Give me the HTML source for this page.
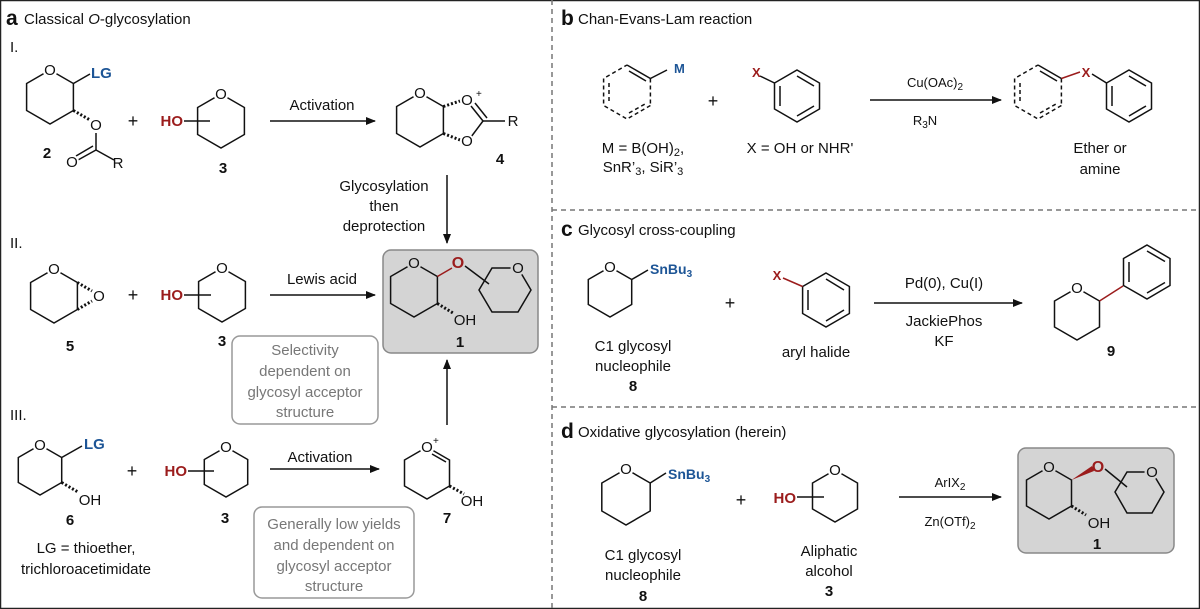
<!DOCTYPE html>
<html><head><meta charset="utf-8"><style>
html,body{margin:0;padding:0;background:#fff}
svg{display:block}
text{font-family:"Liberation Sans",sans-serif;font-size:15px;fill:#111}
.b{font-weight:bold}
.c{text-anchor:middle}
.red{fill:#9b1c1c}
.blue{fill:#1d5596;font-weight:bold}
.g{fill:#777}
.p{font-size:18px}
</style></head><body>
<svg width="1200" height="609" viewBox="0 0 1200 609" xmlns="http://www.w3.org/2000/svg">
<defs><marker id="ar" markerWidth="10" markerHeight="8" refX="9" refY="4" orient="auto" markerUnits="userSpaceOnUse"><path d="M0,0 L10,4 L0,8 z" fill="#111"/></marker></defs>
<rect x="0.5" y="0.5" width="1199" height="608" fill="none" stroke="#222" stroke-width="1.5"/>
<g stroke="#777" stroke-width="1.5" stroke-dasharray="5,4">
<line x1="552" y1="0" x2="552" y2="609"/>
<line x1="552" y1="210" x2="1200" y2="210"/>
<line x1="552" y1="407" x2="1200" y2="407"/>
</g>

<!-- ===== a ===== -->
<text x="6" y="25" class="b" style="font-size:21px">a</text>
<text x="24" y="24">Classical <tspan font-style="italic">O</tspan>-glycosylation</text>
<text x="10" y="52">I.</text>

<g fill="none" stroke="#111" stroke-width="1.5">
<polygon points="50,70 73.4,83.5 73.4,110.5 50,124 26.6,110.5 26.6,83.5"/>
<line x1="73.4" y1="83.5" x2="90" y2="74"/>
<line x1="73.4" y1="110.5" x2="90" y2="120" stroke-dasharray="2,2" stroke-width="3"/>
<line x1="96" y1="133" x2="96" y2="150"/>
<line x1="96" y1="150" x2="114" y2="160"/>
<line x1="96" y1="150" x2="78" y2="160"/>
<line x1="93" y1="146" x2="76" y2="156"/>
<polygon points="221,94 244.4,107.5 244.4,134.5 221,148 197.6,134.5 197.6,107.5"/>
<line x1="184" y1="121" x2="210" y2="121"/>
<polygon points="420,93 443.4,106.5 443.4,133.5 420,147 396.6,133.5 396.6,106.5"/>
<line x1="443.4" y1="106.5" x2="460" y2="101" stroke-dasharray="2,2" stroke-width="3"/>
<line x1="443.4" y1="133.5" x2="460" y2="140" stroke-dasharray="2,2" stroke-width="3"/>
<line x1="471" y1="106" x2="483" y2="121"/>
<line x1="475" y1="103" x2="487" y2="118"/>
<line x1="471" y1="137" x2="483" y2="121"/>
<line x1="483" y1="121" x2="505" y2="121"/>
<polygon points="54,269 77.4,282.5 77.4,309.5 54,323 30.6,309.5 30.6,282.5"/>
<line x1="77.4" y1="282.5" x2="92" y2="291" stroke-dasharray="2,2" stroke-width="3"/>
<line x1="77.4" y1="309.5" x2="92" y2="301" stroke-dasharray="2,2" stroke-width="3"/>
<polygon points="222,268 245.4,281.5 245.4,308.5 222,322 198.6,308.5 198.6,281.5"/>
<line x1="184" y1="295" x2="211" y2="295"/>
<polygon points="40,445 61.7,457.5 61.7,482.5 40,495 18.3,482.5 18.3,457.5"/>
<line x1="61.7" y1="457.5" x2="82" y2="446"/>
<line x1="61.7" y1="482.5" x2="78" y2="492" stroke-dasharray="2,2" stroke-width="3"/>
<polygon points="226,447 247.7,459.5 247.7,484.5 226,497 204.3,484.5 204.3,459.5"/>
<line x1="188" y1="471" x2="214" y2="471"/>
<polygon points="427,447 449.5,460 449.5,486 427,499 404.5,486 404.5,460"/>
<line x1="432" y1="454" x2="446" y2="462"/>
<line x1="449.5" y1="486" x2="464" y2="494" stroke-dasharray="2,2" stroke-width="3"/>
<line x1="270" y1="121" x2="375" y2="121" marker-end="url(#ar)"/>
<line x1="270" y1="295" x2="375" y2="295" marker-end="url(#ar)"/>
<line x1="270" y1="469" x2="379" y2="469" marker-end="url(#ar)"/>
<line x1="447" y1="175" x2="447" y2="243" marker-end="url(#ar)"/>
<line x1="447" y1="425" x2="447" y2="360" marker-end="url(#ar)"/>
<rect x="232" y="336" width="146" height="88" rx="8" stroke="#999"/>
<rect x="254" y="507" width="160" height="91" rx="8" stroke="#999"/>
</g>

<rect x="383" y="250" width="155" height="103" rx="8" fill="#d4d4d4" stroke="#888" stroke-width="1.5"/>
<g fill="none" stroke="#111" stroke-width="1.5">
<polygon points="414,263 437.4,276.5 437.4,303.5 414,317 390.6,303.5 390.6,276.5"/>
<line x1="437.4" y1="276.5" x2="452" y2="268" stroke="#9b1c1c"/>
<line x1="465" y1="266" x2="489" y2="284"/>
<polygon points="492,268 518,268 531,290 518,312 492,312 479,290"/>
<line x1="437.4" y1="303.5" x2="453" y2="313" stroke-dasharray="2,2" stroke-width="3"/>
</g>
<!-- white/gray knockouts for ring O -->
<g fill="#fff">
<circle cx="50" cy="70" r="7.5"/><circle cx="96" cy="125" r="7"/><circle cx="72" cy="162" r="7"/>
<circle cx="221" cy="94" r="7.5"/><circle cx="420" cy="93" r="7.5"/><circle cx="467" cy="100" r="7"/><circle cx="467" cy="141" r="7"/>
<circle cx="54" cy="269" r="7.5"/><circle cx="99" cy="296" r="7"/><circle cx="222" cy="268" r="7.5"/>
<circle cx="40" cy="445" r="7.5"/><circle cx="226" cy="447" r="7.5"/><circle cx="427" cy="447" r="7.5"/>
<circle cx="610" cy="267" r="7.5"/><circle cx="1077" cy="288" r="7.5"/>
<circle cx="626" cy="469" r="7.5"/><circle cx="835" cy="470" r="7.5"/>
</g>
<g fill="#d4d4d4">
<circle cx="414" cy="263" r="7.5"/><circle cx="518" cy="268" r="7.5"/>
<circle cx="1049" cy="467" r="7.5"/><circle cx="1152" cy="472" r="7.5"/>
</g>
<text x="414" y="268" class="c">O</text>
<text x="518" y="273" class="c">O</text>
<text x="458" y="268" class="c red b" style="font-size:16px">O</text>
<text x="465" y="325" class="c">OH</text>
<text x="460" y="347" class="c b">1</text>

<text x="50" y="75" class="c">O</text>
<text x="91" y="78" class="blue">LG</text>
<text x="96" y="130" class="c">O</text>
<text x="72" y="167" class="c">O</text>
<text x="118" y="168" class="c">R</text>
<text x="47" y="158" class="c b">2</text>
<text x="133" y="127" class="c p">+</text>
<text x="221" y="99" class="c">O</text>
<text x="183" y="126" class="red b" text-anchor="end">HO</text>
<text x="223" y="173" class="c b">3</text>
<text x="322" y="110" class="c">Activation</text>
<text x="420" y="98" class="c">O</text>
<text x="467" y="105" class="c">O</text><text x="476" y="97" style="font-size:10px">+</text>
<text x="467" y="146" class="c">O</text>
<text x="513" y="126" class="c">R</text>
<text x="500" y="164" class="c b">4</text>
<text x="384" y="191" class="c">Glycosylation</text>
<text x="384" y="211" class="c">then</text>
<text x="384" y="231" class="c">deprotection</text>

<text x="10" y="248">II.</text>
<text x="54" y="274" class="c">O</text>
<text x="99" y="301" class="c">O</text>
<text x="70" y="351" class="c b">5</text>
<text x="133" y="301" class="c p">+</text>
<text x="222" y="273" class="c">O</text>
<text x="183" y="300" class="red b" text-anchor="end">HO</text>
<text x="222" y="346" class="c b">3</text>
<text x="322" y="284" class="c">Lewis acid</text>
<text x="305" y="355" class="c g">Selectivity</text>
<text x="305" y="376" class="c g">dependent on</text>
<text x="305" y="397" class="c g">glycosyl acceptor</text>
<text x="305" y="417" class="c g">structure</text>

<text x="10" y="420">III.</text>
<text x="40" y="450" class="c">O</text>
<text x="84" y="449" class="blue">LG</text>
<text x="90" y="505" class="c">OH</text>
<text x="70" y="525" class="c b">6</text>
<text x="86" y="553" class="c">LG = thioether,</text>
<text x="86" y="574" class="c">trichloroacetimidate</text>
<text x="132" y="477" class="c p">+</text>
<text x="226" y="452" class="c">O</text>
<text x="187" y="476" class="red b" text-anchor="end">HO</text>
<text x="225" y="523" class="c b">3</text>
<text x="320" y="462" class="c">Activation</text>
<text x="427" y="452" class="c">O</text><text x="433" y="444" style="font-size:10px">+</text>
<text x="472" y="506" class="c">OH</text>
<text x="447" y="523" class="c b">7</text>
<text x="334" y="529" class="c g">Generally low yields</text>
<text x="334" y="550" class="c g">and dependent on</text>
<text x="334" y="571" class="c g">glycosyl acceptor</text>
<text x="334" y="591" class="c g">structure</text>

<!-- ===== b ===== -->
<text x="561" y="25" class="b" style="font-size:21px">b</text>
<text x="578" y="24">Chan-Evans-Lam reaction</text>
<g fill="none" stroke="#111" stroke-width="1.5">
<line x1="627" y1="65" x2="650.4" y2="78.5"/>
<line x1="629" y1="71" x2="646" y2="81"/>
<line x1="650.4" y1="78.5" x2="650.4" y2="105.5" stroke-dasharray="4,3"/>
<polyline points="650.4,105.5 627,119 603.6,105.5 603.6,78.5 627,65" stroke-dasharray="4,3"/>
<line x1="609" y1="83" x2="609" y2="102" stroke-dasharray="4,3"/>
<line x1="629" y1="113" x2="645" y2="104" stroke-dasharray="4,3"/>
<line x1="650.4" y1="78.5" x2="667" y2="70"/>
<polygon points="797,70 819.5,83 819.5,109 797,122 774.5,109 774.5,83"/>
<line x1="797" y1="76" x2="814" y2="86"/>
<line x1="814" y1="106" x2="797" y2="116"/>
<line x1="780" y1="86" x2="780" y2="106"/>
<line x1="760" y1="76" x2="774.5" y2="83"/>
<line x1="870" y1="100" x2="1001" y2="100" marker-end="url(#ar)"/>
<line x1="1038" y1="65" x2="1061.4" y2="78.5"/>
<line x1="1040" y1="71" x2="1057" y2="81"/>
<line x1="1061.4" y1="78.5" x2="1061.4" y2="105.5" stroke-dasharray="4,3"/>
<polyline points="1061.4,105.5 1038,119 1014.6,105.5 1014.6,78.5 1038,65" stroke-dasharray="4,3"/>
<line x1="1020" y1="83" x2="1020" y2="102" stroke-dasharray="4,3"/>
<line x1="1040" y1="113" x2="1056" y2="104" stroke-dasharray="4,3"/>
<line x1="1061.4" y1="78.5" x2="1080" y2="72" stroke="#9b1c1c"/>
<line x1="1092" y1="74" x2="1106.5" y2="83"/>
<polygon points="1129,70 1151.5,83 1151.5,109 1129,122 1106.5,109 1106.5,83"/>
<line x1="1129" y1="76" x2="1146" y2="86"/>
<line x1="1146" y1="106" x2="1129" y2="116"/>
<line x1="1112" y1="86" x2="1112" y2="106"/>
</g>
<text x="674" y="73" class="blue" style="font-size:13px">M</text>
<text x="752" y="77" class="red b" style="font-size:13px">X</text>
<text x="713" y="107" class="c p">+</text>
<text x="935" y="87" class="c" style="font-size:13px">Cu(OAc)<tspan font-size="10" dy="3">2</tspan></text>
<text x="925" y="125" class="c" style="font-size:13px">R<tspan font-size="10" dy="3">3</tspan><tspan dy="-3">N</tspan></text>
<text x="1086" y="77" class="red b c" style="font-size:13px">X</text>
<text x="643" y="153" class="c">M = B(OH)<tspan font-size="11" dy="3">2</tspan><tspan dy="-3">,</tspan></text>
<text x="643" y="172" class="c">SnR’<tspan font-size="11" dy="3">3</tspan><tspan dy="-3">, SiR’</tspan><tspan font-size="11" dy="3">3</tspan></text>
<text x="800" y="153" class="c">X = OH or NHR'</text>
<text x="1100" y="153" class="c">Ether or</text>
<text x="1100" y="174" class="c">amine</text>

<!-- ===== c ===== -->
<text x="561" y="236" class="b" style="font-size:21px">c</text>
<text x="578" y="235">Glycosyl cross-coupling</text>
<g fill="none" stroke="#111" stroke-width="1.5">
<polygon points="610,267 631.7,279.5 631.7,304.5 610,317 588.3,304.5 588.3,279.5"/>
<line x1="631.7" y1="279.5" x2="648" y2="270"/>
<polygon points="826,273 849.4,286.5 849.4,313.5 826,327 802.6,313.5 802.6,286.5"/>
<line x1="826" y1="279" x2="844" y2="290"/>
<line x1="844" y1="310" x2="826" y2="321"/>
<line x1="808" y1="290" x2="808" y2="310"/>
<line x1="783" y1="278" x2="802.6" y2="286.5" stroke="#9b1c1c"/>
<line x1="874" y1="303" x2="1022" y2="303" marker-end="url(#ar)"/>
<polygon points="1077,288 1099.5,301 1099.5,327 1077,340 1054.5,327 1054.5,301"/>
<line x1="1099.5" y1="301" x2="1123" y2="286" stroke="#9b1c1c"/>
<polygon points="1147,245 1170,258.5 1170,285.5 1147,299 1123.5,285.5 1123.5,258.5"/>
<line x1="1147" y1="251" x2="1165" y2="261.5"/>
<line x1="1165" y1="282.5" x2="1147" y2="293"/>
<line x1="1129" y1="262" x2="1129" y2="282"/>
</g>
<circle cx="610" cy="267" r="7.5" fill="#fff"/><circle cx="1077" cy="288" r="7.5" fill="#fff"/>
<text x="610" y="272" class="c">O</text>
<text x="650" y="274" class="blue" style="font-size:14px">SnBu<tspan font-size="10" dy="3">3</tspan></text>
<text x="777" y="280" class="red b c" style="font-size:13px">X</text>
<text x="730" y="309" class="c p">+</text>
<text x="944" y="288" class="c">Pd(0), Cu(I)</text>
<text x="944" y="326" class="c">JackiePhos</text>
<text x="944" y="346" class="c">KF</text>
<text x="1077" y="293" class="c">O</text>
<text x="633" y="351" class="c">C1 glycosyl</text>
<text x="633" y="371" class="c">nucleophile</text>
<text x="633" y="391" class="c b">8</text>
<text x="816" y="357" class="c">aryl halide</text>
<text x="1111" y="356" class="c b">9</text>

<!-- ===== d ===== -->
<text x="561" y="438" class="b" style="font-size:21px">d</text>
<text x="578" y="437">Oxidative glycosylation (herein)</text>
<g fill="none" stroke="#111" stroke-width="1.5">
<polygon points="626,469 650.2,483 650.2,511 626,525 601.8,511 601.8,483"/>
<line x1="650.2" y1="483" x2="666" y2="473"/>
<polygon points="835,470 857.5,483 857.5,509 835,522 812.5,509 812.5,483"/>
<line x1="797" y1="497" x2="824" y2="497"/>
<line x1="899" y1="497" x2="1001" y2="497" marker-end="url(#ar)"/>
</g>
<circle cx="626" cy="469" r="7.5" fill="#fff"/><circle cx="835" cy="470" r="7.5" fill="#fff"/>
<text x="626" y="474" class="c">O</text>
<text x="668" y="479" class="blue" style="font-size:14px">SnBu<tspan font-size="10" dy="3">3</tspan></text>
<text x="741" y="506" class="c p">+</text>
<text x="835" y="475" class="c">O</text>
<text x="796" y="503" class="red b" text-anchor="end">HO</text>
<text x="950" y="487" class="c" style="font-size:13px">ArIX<tspan font-size="10" dy="3">2</tspan></text>
<text x="950" y="526" class="c" style="font-size:13px">Zn(OTf)<tspan font-size="10" dy="3">2</tspan></text>
<text x="643" y="560" class="c">C1 glycosyl</text>
<text x="643" y="580" class="c">nucleophile</text>
<text x="643" y="601" class="c b">8</text>
<text x="829" y="556" class="c">Aliphatic</text>
<text x="829" y="576" class="c">alcohol</text>
<text x="829" y="596" class="c b">3</text>

<rect x="1018" y="448" width="156" height="105" rx="8" fill="#d4d4d4" stroke="#888" stroke-width="1.5"/>
<g fill="none" stroke="#111" stroke-width="1.5">
<polygon points="1049,467 1071.5,480 1071.5,506 1049,519 1026.5,506 1026.5,480"/>
<line x1="1105" y1="469" x2="1127" y2="487"/>
<polygon points="1127,472 1152,472 1164,492 1152,513 1127,513 1115,492"/>
<line x1="1071.5" y1="506" x2="1086" y2="515" stroke-dasharray="2,2" stroke-width="3"/>
</g>
<polygon points="1071.5,480 1092,466 1094,471" fill="#9b1c1c"/>
<circle cx="1049" cy="467" r="7.5" fill="#d4d4d4"/><circle cx="1152" cy="472" r="7.5" fill="#d4d4d4"/>
<text x="1049" y="472" class="c">O</text>
<text x="1152" y="477" class="c">O</text>
<text x="1098" y="472" class="c red b" style="font-size:16px">O</text>
<text x="1099" y="528" class="c">OH</text>
<text x="1097" y="549" class="c b">1</text>
</svg>
</body></html>
